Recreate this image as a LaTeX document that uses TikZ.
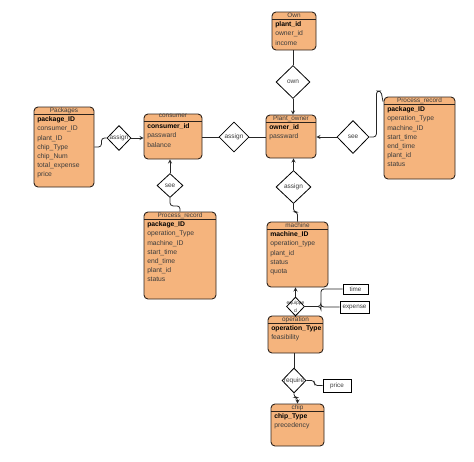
\documentclass[tikz,border=0pt]{standalone}
\usepackage{fontspec}
\setmainfont{Liberation Sans}
\usetikzlibrary{shapes, arrows, positioning, shapes.geometric, calc}
\definecolor{tblfill}{RGB}{245,180,125}
\definecolor{tblline}{RGB}{45,35,28}
\definecolor{txt}{RGB}{60,60,60}

\begin{document}
\begin{tikzpicture}[x=1pt, y=-1pt, >=stealth]
            \tikzstyle{tbl} = [draw=tblline, fill=tblfill, rounded corners=4pt, line width=0.9pt, inner sep=0pt]
            \tikzstyle{head} = [anchor=north, inner sep=0pt, yshift=-0.8pt, text=txt, font=\fontsize{6.4}{7}\selectfont]
            \tikzstyle{attr} = [anchor=north west, inner sep=0pt, align=left, text=txt, font=\fontsize{6.8}{9.2}\selectfont]
            \tikzstyle{rel} = [draw=black, fill=white, diamond, inner sep=0pt, line width=0.8pt, label={[text=txt, font=\fontsize{6.5}{7}\selectfont]center:#1}]
            \tikzstyle{prop} = [draw=black, fill=white, rectangle, inner sep=0pt, line width=0.6pt, text=txt, font=\fontsize{6.3}{7}\selectfont]
            \tikzstyle{line} = [draw=black!85, line width=0.8pt, rounded corners=3pt]

            \useasboundingbox (0,0) rectangle (474,461);

            % tables
            \node[tbl, minimum width=44pt, minimum height=38pt] (own_t) at (294,31) {};
            \node[head] at (own_t.north) {Own};
            \draw[tblline, line width=0.8pt] ([yshift=-8pt]own_t.north west) -- ([yshift=-8pt]own_t.north east);
            \node[attr] at ([xshift=3.5pt, yshift=-10pt]own_t.north west) {\textcolor{black}{\textbf{plant\_id}}\\owner\_id\\income};

            \node[tbl, minimum width=50pt, minimum height=43pt] (owner) at (291,136.5) {};
            \node[head] at (owner.north) {Plant\_owner};
            \draw[tblline, line width=0.8pt] ([yshift=-8pt]owner.north west) -- ([yshift=-8pt]owner.north east);
            \node[attr] at ([xshift=3.5pt, yshift=-10pt]owner.north west) {\textcolor{black}{\textbf{owner\_id}}\\passward};

            \node[tbl, minimum width=71pt, minimum height=82pt] (rec_r) at (419.5,138) {};
            \node[head] at (rec_r.north) {Process\_record};
            \draw[tblline, line width=0.8pt] ([yshift=-8pt]rec_r.north west) -- ([yshift=-8pt]rec_r.north east);
            \node[attr] at ([xshift=3.5pt, yshift=-10pt]rec_r.north west) {\textcolor{black}{\textbf{package\_ID}}\\operation\_Type\\machine\_ID\\start\_time\\end\_time\\plant\_id\\status};

            \node[tbl, minimum width=60pt, minimum height=80pt] (packages) at (64,147) {};
            \node[head] at (packages.north) {Packages};
            \draw[tblline, line width=0.8pt] ([yshift=-8pt]packages.north west) -- ([yshift=-8pt]packages.north east);
            \node[attr] at ([xshift=3.5pt, yshift=-10pt]packages.north west) {\textcolor{black}{\textbf{package\_ID}}\\consumer\_ID\\plant\_ID\\chip\_Type\\chip\_Num\\total\_expense\\price};

            \node[tbl, minimum width=58pt, minimum height=45pt] (consumer) at (173,136.5) {};
            \node[head] at (consumer.north) {consumer};
            \draw[tblline, line width=0.8pt] ([yshift=-8pt]consumer.north west) -- ([yshift=-8pt]consumer.north east);
            \node[attr] at ([xshift=3.5pt, yshift=-10pt]consumer.north west) {\textcolor{black}{\textbf{consumer\_id}}\\passward\\balance};

            \node[tbl, minimum width=72pt, minimum height=87pt] (rec_l) at (180,255.5) {};
            \node[head] at (rec_l.north) {Process\_record};
            \draw[tblline, line width=0.8pt] ([yshift=-8pt]rec_l.north west) -- ([yshift=-8pt]rec_l.north east);
            \node[attr] at ([xshift=3.5pt, yshift=-10pt]rec_l.north west) {\textcolor{black}{\textbf{package\_ID}}\\operation\_Type\\machine\_ID\\start\_time\\end\_time\\plant\_id\\status};

            \node[tbl, minimum width=61pt, minimum height=65pt] (machine) at (297.5,254.5) {};
            \node[head] at (machine.north) {machine};
            \draw[tblline, line width=0.8pt] ([yshift=-8pt]machine.north west) -- ([yshift=-8pt]machine.north east);
            \node[attr] at ([xshift=3.5pt, yshift=-10pt]machine.north west) {\textcolor{black}{\textbf{machine\_ID}}\\operation\_type\\plant\_id\\status\\quota};

            \node[tbl, minimum width=55pt, minimum height=37pt] (operation) at (295.5,334.5) {};
            \node[head] at (operation.north) {operation};
            \draw[tblline, line width=0.8pt] ([yshift=-8pt]operation.north west) -- ([yshift=-8pt]operation.north east);
            \node[attr] at ([xshift=3.5pt, yshift=-10pt]operation.north west) {\textcolor{black}{\textbf{operation\_Type}}\\feasibility};

            \node[tbl, minimum width=53pt, minimum height=42pt] (chip) at (297.5,425) {};
            \node[head] at (chip.north) {chip};
            \draw[tblline, line width=0.8pt] ([yshift=-8pt]chip.north west) -- ([yshift=-8pt]chip.north east);
            \node[attr] at ([xshift=3.5pt, yshift=-10pt]chip.north west) {\textcolor{black}{\textbf{chip\_Type}}\\precedency};

            % relations
            \node[rel=own, minimum width=34pt, minimum height=33pt] (own_r) at (293,82) {};
            \node[rel=see, minimum width=32pt, minimum height=33pt] (see_r) at (353,137) {};
            \node[rel=assign, minimum width=30pt, minimum height=30pt] (assign_m) at (234,137) {};
            \node[rel=assign, minimum width=24pt, minimum height=25pt] (assign_l) at (119,138) {};
            \node[rel=see, minimum width=26pt, minimum height=24pt] (see_l) at (170,185.5) {};
            \node[rel=assign, minimum width=35pt, minimum height=33pt] (assign_b) at (293.5,187) {};
            \node[rel={\fontsize{5}{5.5}\selectfont\shortstack{equippe\\d}}, minimum width=18pt, minimum height=19pt] (equip) at (295.5,306.5) {};
            \node[rel=require, minimum width=24pt, minimum height=25pt] (require) at (294,380.5) {};

            % attributes
            \node[prop, minimum width=25pt, minimum height=10pt] (time) at (355.5,289) {time};
            \node[prop, minimum width=29pt, minimum height=12pt] (expense) at (354.5,307) {expense};
            \node[prop, minimum width=28pt, minimum height=13pt] (price) at (337,385.5) {price};

            % connectors
            \draw[line] (own_t.south -| own_r.north) -- (own_r.north);
            \draw[line, ->] (own_r.south) -- (own_r.south |- owner.north);
            \draw[line, ->] (see_r.west) -- (see_r.west -| owner.east);
            \draw[line] (see_r.east) -- ++(7,0) |- (381,91) -- ([yshift=-5pt]rec_r.north west -| 383,0);
            \draw[line] (consumer.east |- assign_m.west) -- (assign_m.west);
            \draw[line] (assign_m.east) -- (assign_m.east -| owner.west);
            \draw[line] (packages.east |- 0,147) -- ++(7,0) |- (assign_l.west);
            \draw[line, ->] (assign_l.east) -- (assign_l.east -| consumer.west);
            \draw[line, ->] (see_l.north) -- (see_l.north |- consumer.south);
            \draw[line] (see_l.south) -- ++(0,8) -| (rec_l.north);
            \draw[line, ->] (assign_b.north) -- (assign_b.north |- owner.south);
            \draw[line] (assign_b.south) -- ++(0,8) -| (machine.north);
            \draw[line, ->] (equip.north) -- (equip.north |- machine.south);
            \draw[line] (equip.south) -- (equip.south |- operation.north);
            \draw[line] (equip.east) -- ++(16,0) |- (time.west);
            \draw[line] (equip.east) -- ++(16,0) |- (expense.west);
            \draw[line] (require.north |- operation.south) -- (require.north);
            \draw[line] (require.east) -- ++(8,0) |- (price.west);
            \draw[line, ->] (require.south) -- ++(0,4) -| (chip.north);
        \end{tikzpicture}
\end{document}
